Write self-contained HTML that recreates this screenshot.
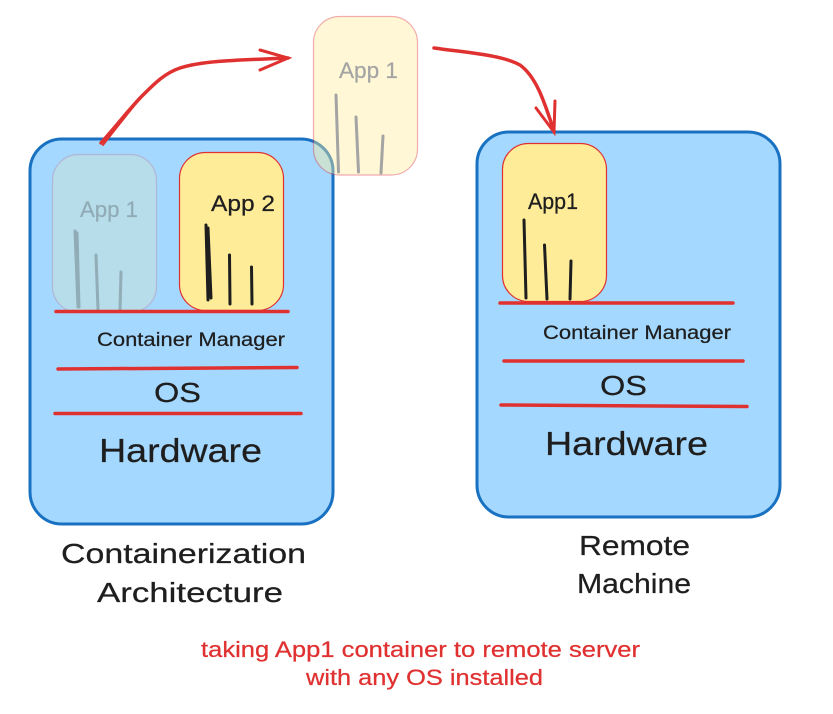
<!DOCTYPE html>
<html><head><meta charset="utf-8"><style>
html,body{margin:0;padding:0;background:#fff;width:833px;height:714px;overflow:hidden}
svg{display:block}
text{font-family:"Liberation Sans",sans-serif;fill:#1e1e1e;stroke:#1e1e1e;stroke-width:.25}
.l{stroke:#e03131;stroke-linecap:round;fill:none}
.b{stroke:#1e1e1e;stroke-width:3;stroke-linecap:round;fill:none}
.r{fill:#e03131;stroke:#e03131}
</style></head><body>
<svg width="833" height="714" viewBox="0 0 833 714" xmlns="http://www.w3.org/2000/svg">
<rect x="30" y="139" width="303" height="385" rx="32" fill="#a5d8ff" stroke="#1971c2" stroke-width="3"/>
<rect x="477" y="132" width="303" height="385" rx="32" fill="#a5d8ff" stroke="#1971c2" stroke-width="3"/>

<g opacity="0.2">
<rect x="52.5" y="154.5" width="104" height="158" rx="26" fill="#ffec99" stroke="#e03131" stroke-width="1.2"/>
</g>
<g opacity="0.25">
<path class="b" d="M75 231L78 307M77 233L79 307M96 255L98 310M121 272L120 310"/>
<text x="80" y="217" font-size="22" textLength="58" lengthAdjust="spacingAndGlyphs">App 1</text>
</g>

<rect x="179.5" y="152.5" width="104" height="158" rx="26" fill="#ffec99" stroke="#e03131" stroke-width="1.2"/>
<path class="b" d="M206 225L208 300M208 228L211 298M229.500 255L230 304M251.500 267L252 304"/>
<text x="211" y="211" font-size="22" textLength="64" lengthAdjust="spacingAndGlyphs">App 2</text>

<rect x="502.5" y="143.5" width="104" height="158" rx="26" fill="#ffec99" stroke="#e03131" stroke-width="1.2"/>
<path class="b" d="M524 220L526 298M544.500 245L547 299M571 261L570 299"/>
<text x="528" y="209" font-size="22" textLength="50" lengthAdjust="spacingAndGlyphs">App1</text>

<g opacity="0.4">
<rect x="313.5" y="16.5" width="104" height="158.500" rx="26" fill="#ffec99" stroke="#e03131" stroke-width="1.2"/>
<path class="b" d="M336 95L338.500 172M356 117L358.500 172M383 136L381 173"/>
<text x="339" y="78" font-size="22" textLength="59" lengthAdjust="spacingAndGlyphs">App 1</text>
</g>

<path class="l" stroke-width="3.500" d="M56 311.500L288 311.500"/>
<path class="l" stroke-width="3.500" d="M58 369L297 367.500"/>
<path class="l" stroke-width="3.500" d="M55 413.500L301 413.500"/>
<path class="l" stroke-width="3.500" d="M500 303L733 303"/>
<path class="l" stroke-width="3.500" d="M504 361L743 361"/>
<path class="l" stroke-width="3.500" d="M501 405L747 406.500"/>

<path class="l" stroke-width="3.500" d="M101 143C118 124 130 108 142 96C155 83 165 73 180 68C205 60 245 60 288 58"/>
<path class="l" stroke-width="2" d="M103 145C118 126 130 110 141 98"/>
<path class="l" stroke-width="3" d="M260 50L288 58L260 70"/>
<path class="l" stroke-width="3.500" d="M434 48C470 53 502 55 520 65C538 78 546 108 554 131"/>
<path class="l" stroke-width="3" d="M536 108L554 132L555 101"/>

<text x="97" y="346" font-size="19" textLength="188" lengthAdjust="spacingAndGlyphs">Container Manager</text>
<text x="154" y="402" font-size="28" textLength="47" lengthAdjust="spacingAndGlyphs">OS</text>
<text x="99" y="462" font-size="33" textLength="163" lengthAdjust="spacingAndGlyphs">Hardware</text>

<text x="543" y="339" font-size="19" textLength="188" lengthAdjust="spacingAndGlyphs">Container Manager</text>
<text x="600" y="395" font-size="28" textLength="47" lengthAdjust="spacingAndGlyphs">OS</text>
<text x="545" y="455" font-size="33" textLength="163" lengthAdjust="spacingAndGlyphs">Hardware</text>

<text x="61" y="563" font-size="28" textLength="245" lengthAdjust="spacingAndGlyphs">Containerization</text>
<text x="97" y="602" font-size="28" textLength="186" lengthAdjust="spacingAndGlyphs">Architecture</text>
<text x="579" y="555" font-size="28" textLength="111" lengthAdjust="spacingAndGlyphs">Remote</text>
<text x="577" y="593" font-size="28" textLength="114" lengthAdjust="spacingAndGlyphs">Machine</text>

<text class="r" x="201" y="657" font-size="22" textLength="439" lengthAdjust="spacingAndGlyphs" style="fill:#e03131">taking App1 container to remote server</text>
<text class="r" x="306" y="685" font-size="22" textLength="237" lengthAdjust="spacingAndGlyphs" style="fill:#e03131">with any OS installed</text>
</svg>
</body></html>
